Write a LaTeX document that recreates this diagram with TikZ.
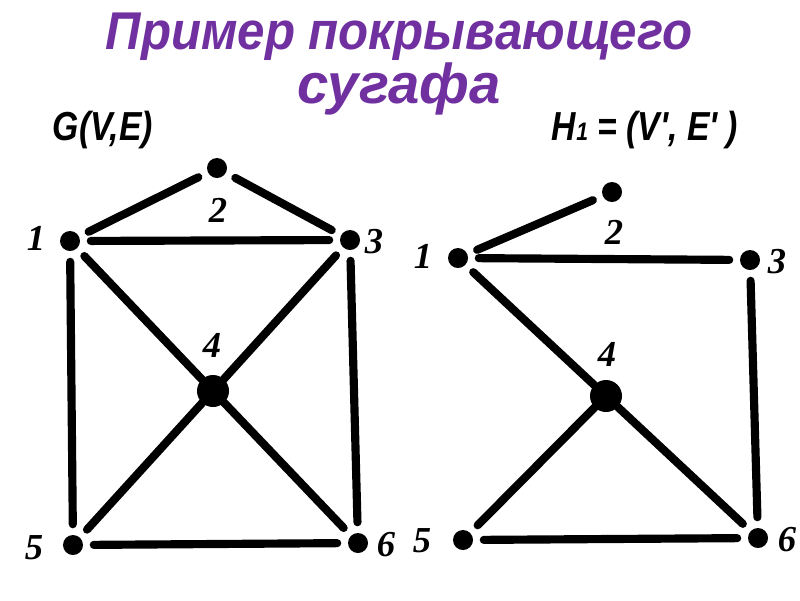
\documentclass[tikz,border=0pt]{standalone}
\usepackage{fontspec}
\setmainfont{Liberation Serif}
\newfontfamily\headfont{Liberation Sans}
\usetikzlibrary{positioning}
\definecolor{TitlePurple}{HTML}{7030A0}

\tikzset{
  vtx/.style={circle, fill=black, inner sep=0pt, minimum size=0.5cm, outer sep=0.27cm},
  bigvtx/.style={circle, fill=black, inner sep=0pt, minimum size=0.8cm, outer sep=0pt},
  link/.style={line width=5.8pt, line cap=round},
  num/.style={font=\bfseries\itshape\fontsize{26}{28}\selectfont},
  head/.style={font=\headfont\bfseries\itshape\fontsize{24}{26}\selectfont, anchor=base west},
  titletext/.style={font=\headfont\bfseries\itshape, text=TitlePurple, anchor=base}
}

\begin{document}
\begin{tikzpicture}[x=0.025cm, y=-0.025cm]
\useasboundingbox (0,0) rectangle (800,600);

% --- Title ---
\node[titletext] (title1) at (399,49) {\scalebox{1}[1.08]{\fontsize{35}{38}\selectfont Пример покрывающего}};
\node[titletext] (title2) at (399,103) {\fontsize{40}{44}\selectfont сугафа};
\node[head] (gname) at (48,140) {\scalebox{1}[1.2]{G(V,E)}};
\node[head] (hname) at (547,140) {\scalebox{1}[1.2]{H{\fontsize{15}{16}\selectfont 1} = (V\textquotesingle, E\textquotesingle\ )}};

% --- Graph G(V,E) ---
\node[vtx] (g1) at (70,241) {};
\node[vtx] (g2) at (217,168) {};
\node[vtx] (g3) at (350,240) {};
\node[bigvtx] (g4) at (213,391) {};
\node[vtx] (g5) at (73,545) {};
\node[vtx] (g6) at (358,543) {};
\draw[link] (g1) -- (g2);
\draw[link] (g2) -- (g3);
\draw[link] (g1) -- (g3);
\draw[link] (g1) -- (g4);
\draw[link] (g3) -- (g4);
\draw[link] (g1) -- (g5);
\draw[link] (g3) -- (g6);
\draw[link] (g4) -- (g5);
\draw[link] (g4) -- (g6);
\draw[link] (g5) -- (g6);
% vertex numbers
\node[num] (gl1) at (36,238) {1};
\node[num] (gl2) at (218,210) {2};
\node[num] (gl3) at (374,242) {3};
\node[num] (gl4) at (212,345) {4};
\node[num] (gl5) at (34,548) {5};
\node[num] (gl6) at (386,545) {6};

% --- Covering subgraph H1 ---
\node[vtx] (h1) at (458,258) {};
\node[vtx] (h2) at (612,192) {};
\node[vtx] (h3) at (750,260) {};
\node[bigvtx] (h4) at (606,396) {};
\node[vtx] (h5) at (463,540) {};
\node[vtx] (h6) at (758,538) {};
\draw[link] (h1) -- (h2);
\draw[link] (h1) -- (h3);
\draw[link] (h1) -- (h4);
\draw[link] (h3) -- (h6);
\draw[link] (h4) -- (h5);
\draw[link] (h4) -- (h6);
\draw[link] (h5) -- (h6);
% vertex numbers
\node[num] (hl1) at (423,256) {1};
\node[num] (hl2) at (614,232) {2};
\node[num] (hl3) at (777,262) {3};
\node[num] (hl4) at (607,354) {4};
\node[num] (hl5) at (422,541) {5};
\node[num] (hl6) at (787,540) {6};
\end{tikzpicture}
\end{document}
